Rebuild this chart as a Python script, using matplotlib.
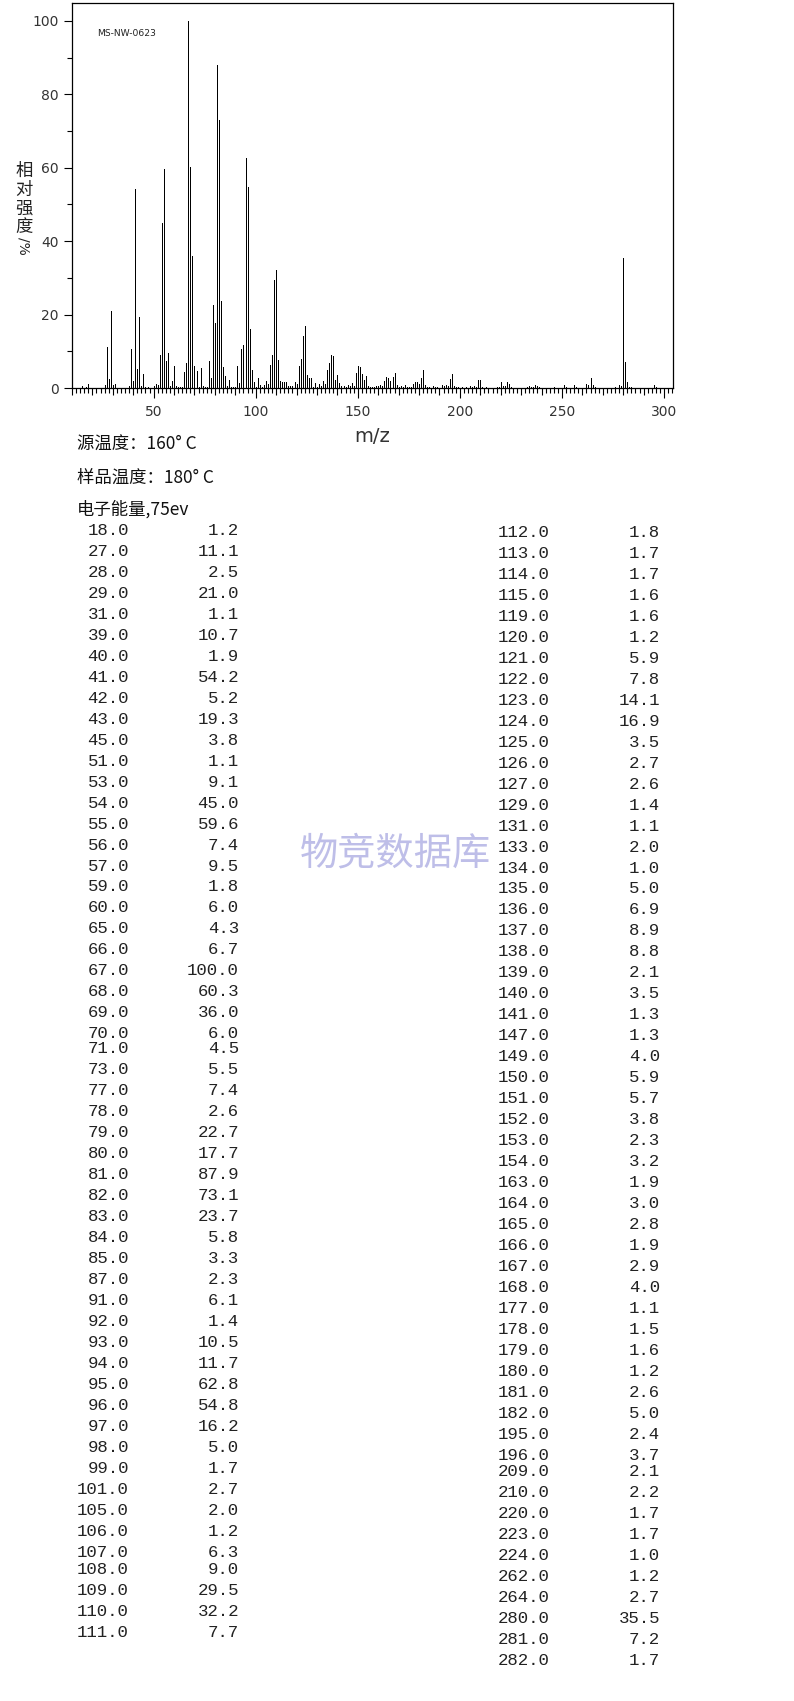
import matplotlib
matplotlib.use("Agg")
import matplotlib.pyplot as plt
from matplotlib.ticker import MultipleLocator

# peaks listed in the table (m/z, relative intensity %)
table_mz = [18, 27, 28, 29, 31, 39, 40, 41, 42, 43, 45, 51, 53, 54, 55, 56, 57, 59, 60,
            65, 66, 67, 68, 69, 70, 71, 73, 77, 78, 79, 80, 81, 82, 83, 84, 85, 87, 91,
            92, 93, 94, 95, 96, 97, 98, 99, 101, 105, 106, 107, 108, 109, 110, 111,
            112, 113, 114, 115, 119, 120, 121, 122, 123, 124, 125, 126, 127, 129, 131,
            133, 134, 135, 136, 137, 138, 139, 140, 141, 147, 149, 150, 151, 152, 153,
            154, 163, 164, 165, 166, 167, 168, 177, 178, 179, 180, 181, 182, 195, 196,
            209, 210, 220, 223, 224, 262, 264, 280, 281, 282]
table_int = [1.2, 11.1, 2.5, 21.0, 1.1, 10.7, 1.9, 54.2, 5.2, 19.3, 3.8, 1.1, 9.1, 45.0,
             59.6, 7.4, 9.5, 1.8, 6.0, 4.3, 6.7, 100.0, 60.3, 36.0, 6.0, 4.5, 5.5, 7.4,
             2.6, 22.7, 17.7, 87.9, 73.1, 23.7, 5.8, 3.3, 2.3, 6.1, 1.4, 10.5, 11.7, 62.8,
             54.8, 16.2, 5.0, 1.7, 2.7, 2.0, 1.2, 6.3, 9.0, 29.5, 32.2, 7.7,
             1.8, 1.7, 1.7, 1.6, 1.6, 1.2, 5.9, 7.8, 14.1, 16.9, 3.5, 2.7, 2.6, 1.4, 1.1,
             2.0, 1.0, 5.0, 6.9, 8.9, 8.8, 2.1, 3.5, 1.3, 1.3, 4.0, 5.9, 5.7, 3.8, 2.3,
             3.2, 1.9, 3.0, 2.8, 1.9, 2.9, 4.0, 1.1, 1.5, 1.6, 1.2, 2.6, 5.0, 2.4, 3.7,
             2.1, 2.2, 1.7, 1.7, 1.0, 1.2, 2.7, 35.5, 7.2, 1.7]

# weak peaks seen only in the spectrum (below 1 %), estimated
minor_mz = [15, 17, 26, 30, 38, 44, 46, 47, 50, 52, 58, 61, 62, 63, 64, 72, 74, 75, 76,
            86, 88, 89, 90, 100, 102, 103, 104, 116, 117, 118, 128, 130, 132, 142, 143,
            144, 145, 146, 148, 155, 156, 157, 158, 159, 160, 161, 162, 169, 170, 171,
            172, 173, 174, 175, 176, 183, 184, 185, 187, 188, 189, 191, 192, 193, 194,
            197, 198, 199, 201, 203, 205, 206, 207, 208, 211, 213, 218, 219, 221, 222,
            225, 233, 234, 235, 236, 237, 238, 239, 246, 251, 252, 256, 257, 263, 265,
            266, 276, 278, 279, 283, 284, 295, 296]
minor_int = [0.5, 0.4, 0.7, 0.7, 0.5, 0.5, 0.4, 0.3, 0.5, 0.8, 0.6, 0.6, 0.4, 0.4, 0.4,
             0.4, 0.6, 0.4, 0.4, 0.6, 0.4, 0.4, 0.4, 0.3, 0.7, 0.3, 0.7, 0.5, 0.5, 0.5,
             0.4, 0.4, 0.5, 0.5, 0.6, 0.4, 0.8, 0.5, 0.6, 0.6, 0.4, 0.4, 0.4, 0.5, 0.5,
             0.8, 0.5, 0.8, 0.4, 0.6, 0.4, 0.8, 0.3, 0.3, 0.3, 0.8, 0.4, 0.4, 0.6, 0.4,
             0.4, 0.8, 0.6, 0.8, 0.6, 0.5, 0.4, 0.4, 0.4, 0.3, 0.5, 0.4, 0.5, 0.4, 0.4,
             0.4, 0.4, 0.4, 0.6, 0.6, 0.4, 0.4, 0.5, 0.4, 0.4, 0.8, 0.6, 0.4, 0.4, 0.8,
             0.4, 0.8, 0.4, 0.8, 0.8, 0.4, 0.4, 0.8, 0.5, 0.4, 0.4, 0.8, 0.4]

info_lines = ["源温度：160° C", "样品温度：180° C", "电子能量,75ev"]
ylabel_chars = ["相", "对", "强", "度"]
sample_id = "MS-NW-0623"
watermark = "物竞数据库"

W, H = 794, 1701
def fx(x):
    return x / W
def fy(y):
    return 1 - y / H

cjk = ["Noto Sans CJK SC", "DejaVu Sans"]

fig = plt.figure(figsize=(W / 100, H / 100), dpi=100)
fig.patch.set_facecolor("white")

# watermark under everything
fig.text(fx(396), fy(854), watermark, family=cjk, fontsize=27.5, color="#bebee8",
         ha="center", va="center", zorder=0)

ax = fig.add_axes([fx(72), fy(388), (673 - 72) / W, (388 - 3) / H])
ax.vlines(minor_mz, 0, minor_int, color="black", linewidth=0.7, antialiased=False)
ax.vlines(table_mz, 0, table_int, color="black", linewidth=0.7, antialiased=False)
ax.set_xlim(10, 304.4)
ax.set_ylim(0, 104.9)

for s in ax.spines.values():
    s.set_linewidth(0.9)
    s.set_color("black")

ax.xaxis.set_major_locator(MultipleLocator(50))
ax.xaxis.set_minor_locator(MultipleLocator(2))
ax.yaxis.set_major_locator(MultipleLocator(20))
ax.yaxis.set_minor_locator(MultipleLocator(10))
ax.tick_params(axis="x", which="major", length=7.2, width=0.8, pad=5, labelsize=10,
               labelcolor="#333333")
ax.tick_params(axis="x", which="minor", length=3.4, width=0.8)
ax.tick_params(axis="y", which="major", length=5.5, width=0.8, pad=4, labelsize=10,
               labelcolor="#333333")
ax.tick_params(axis="y", which="minor", length=3.8, width=0.8)

# every tenth m/z gets a slightly longer tick
locs = ax.xaxis.get_minorticklocs()
ticks = ax.xaxis.get_minor_ticks(len(locs))
for t, loc in zip(ticks, locs):
    if round(loc) % 10 == 0:
        t.tick1line.set_markersize(5.3)

fig.text(fx(97), fy(34), sample_id, fontsize=6.6, family="DejaVu Sans", color="#222222",
         ha="left", va="center")
fig.text(fx(372), fy(437), "m/z", fontsize=14, family="DejaVu Sans", color="#333333",
         ha="center", va="center")

# stacked y label
for i, ch in enumerate(ylabel_chars):
    fig.text(fx(24), fy(171 + i * 18.7), ch, family=cjk, fontsize=12.5, color="#222222",
             ha="center", va="center")
fig.text(fx(24), fy(246), "/%", family="DejaVu Sans", fontsize=10, color="#222222",
         ha="center", va="center", rotation=-90)

for i, line in enumerate(info_lines):
    fig.text(fx(77), fy(445 + i * 32.3), line, family=cjk, fontsize=12.5, color="#111111",
             ha="left", va="center")

# peak table, two columns
n_left = 54
left_mz, left_int = table_mz[:n_left], table_int[:n_left]
right_mz, right_int = table_mz[n_left:], table_int[n_left:]
step = 20.97
mono = dict(family="Liberation Mono", fontsize=12.5, color="#222222", va="baseline")

for i, (m, v) in enumerate(zip(left_mz, left_int)):
    y = 535 + i * step
    if i >= 25:
        y -= 5.9
    if i >= 50:
        y -= 3.7
    fig.text(fx(129), fy(y), f"{m:.1f}", ha="right", **mono)
    fig.text(fx(239), fy(y), f"{v:.1f}", ha="right", **mono)

for i, (m, v) in enumerate(zip(right_mz, right_int)):
    y = 537 + i * step
    if i >= 45:
        y -= 4.8
    fig.text(fx(550), fy(y), f"{m:.1f}", ha="right", **mono)
    fig.text(fx(660), fy(y), f"{v:.1f}", ha="right", **mono)

fig.savefig("out.png", dpi=100, facecolor="white")
